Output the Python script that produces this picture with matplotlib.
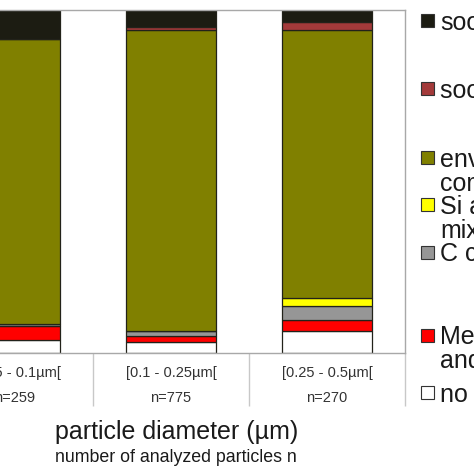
import matplotlib
matplotlib.use("Agg")
import matplotlib.pyplot as plt
from matplotlib.patches import Rectangle
import numpy as np

plt.rcParams['font.family'] = ['Liberation Sans', 'DejaVu Sans']

# size classes and counts
categories = ["[0.05 - 0.1µm[", "[0.1 - 0.25µm[", "[0.25 - 0.5µm["]
counts = [259, 775, 270]

# relative abundance (%) of each particle class, stacked bottom -> top
no_class = [3.8, 3.1, 6.5]
metal = [4.1, 2.0, 3.0]
carbon = [0.6, 1.2, 4.3]
silicon = [0.0, 0.0, 2.2]
env = [83.0, 87.8, 78.2]
soot_mixed = [0.0, 1.0, 2.4]
soot = [8.5, 4.9, 3.4]

series = [no_class, metal, carbon, silicon, env, soot_mixed, soot]
colors = ['#ffffff', '#ff0000', '#969696', '#ffff00', '#808000', '#a33a3a', '#1c1c12']

# legend, top -> bottom
legend_labels = [["soot"], ["soot mixed"], ["environmental", "compounds"],
                 ["Si and Al", "mixtures"], ["C compounds"],
                 ["Metals", "and oxides"], ["no classification"]]
legend_colors = colors[::-1]

W = 474
fig = plt.figure(figsize=(4.74, 4.74), dpi=100)
ax = fig.add_axes([-63 / W, 1 - 353 / W, 468 / W, 343 / W])

x = np.arange(len(categories))
bottom = np.zeros(len(categories))
for vals, c in zip(series, colors):
    ax.bar(x, vals, width=0.577, bottom=bottom, color=c,
           edgecolor='#22221a', linewidth=0.9)
    bottom += np.array(vals)

ax.set_xlim(-0.5, len(categories) - 0.5)
ax.set_ylim(0, 100)
ax.set_yticks([])
for s in ['top', 'right', 'bottom', 'left']:
    ax.spines[s].set_color('#a8a8a8')
    ax.spines[s].set_linewidth(1.0)

ax.set_xticks(x)
ax.set_xticklabels([])
ax.tick_params(axis='x', which='major', length=0)
ax.set_xticks(np.arange(-0.5, len(categories)), minor=True)
ax.tick_params(axis='x', which='minor', length=38, color='#c8c8c8', width=1)

tr = ax.get_xaxis_transform()
for xi, cat, n in zip(x, categories, counts):
    ax.text(xi, -20 / 343, cat, transform=tr, ha='center', va='center',
            fontsize=10.5, color='#333333')
    ax.text(xi, -45 / 343, "n=%d" % n, transform=tr, ha='center', va='center',
            fontsize=10.5, color='#333333')

fig.text(55 / W, 1 - 432 / W, "particle diameter (µm)", ha='left', va='center',
         fontsize=18, color='#1a1a1a')
fig.text(55 / W, 1 - 457 / W, "number of analyzed particles n", ha='left',
         va='center', fontsize=12.8, color='#1a1a1a')

# legend placed like the original export
legend_y = [20, 88, 157, 205, 252, 335, 392]
for yc, lines, c in zip(legend_y, legend_labels, legend_colors):
    fig.patches.append(Rectangle((421 / W, 1 - (yc + 6.5) / W), 13 / W, 13 / W,
                                 transform=fig.transFigure, facecolor=c,
                                 edgecolor='#333333', linewidth=0.8))
    for i, line in enumerate(lines):
        fig.text(440 / W, 1 - (yc + i * 24) / W, line, ha='left',
                 va='center_baseline', fontsize=18, color='#1a1a1a')

fig.savefig("out.png", dpi=100)
